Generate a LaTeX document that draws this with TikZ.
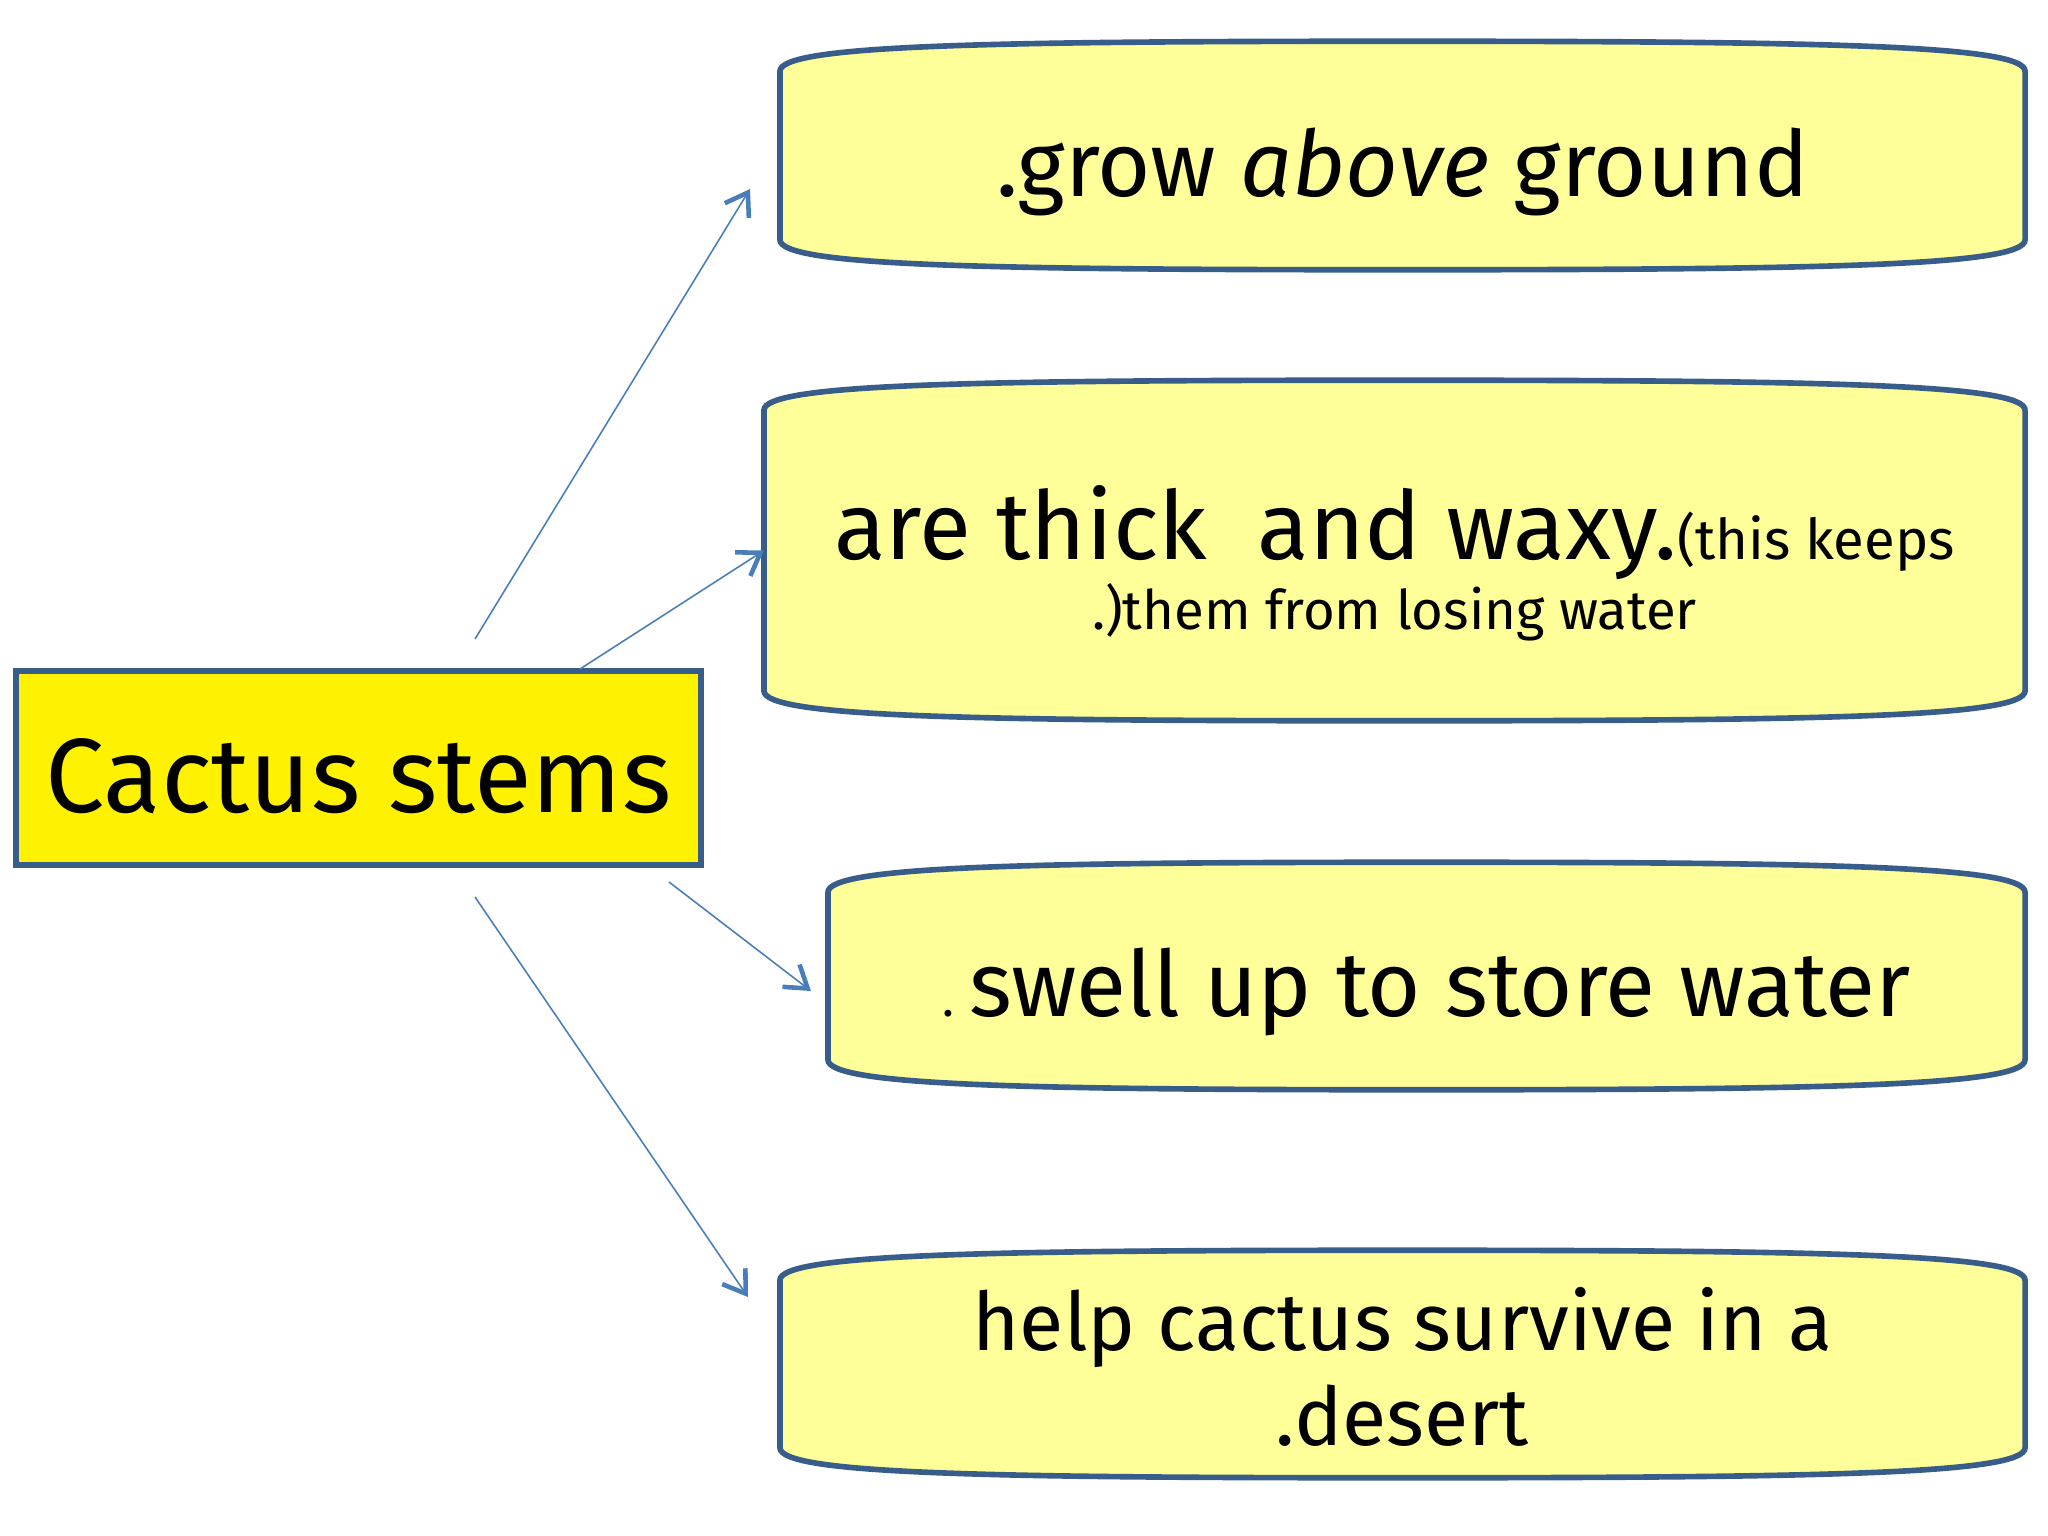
\documentclass[tikz,border=0pt]{standalone}
\usepackage{fontspec}
\setmainfont{Fira Sans}
\usepackage{tikz}
\usetikzlibrary{arrows.meta}
\definecolor{rimblue}{HTML}{385D8A}
\definecolor{linkblue}{HTML}{4A7EBB}
\definecolor{paleyellow}{HTML}{FFFF99}
\tikzstyle{fact}=[rectangle,inner sep=0pt,align=center,text=black]
\tikzstyle{rim}=[draw=rimblue,fill=paleyellow,line width=1.6pt]
\tikzstyle{link}=[draw=linkblue,line width=0.45pt,-{Straight Barb[length=6pt,width=8pt,line width=1.3pt]}]

\begin{document}
\begin{tikzpicture}[x=0.01cm,y=-0.01cm]
  \useasboundingbox (0,0) rectangle (2048,1536);
  \node[fact,minimum width=12.43cm,minimum height=2.27cm] (grow) at (1402.5,155.5) {};
  \node[fact,minimum width=12.59cm,minimum height=3.39cm] (wax) at (1394.5,550.5) {};
  \node[fact,minimum width=11.95cm,minimum height=2.26cm] (swell) at (1426.5,976) {};
  \node[fact,minimum width=12.43cm,minimum height=2.26cm] (desert) at (1402.5,1364) {};
  \foreach \name in {grow,wax,swell,desert}
    \draw[rim] ([yshift=-3mm]\name.north west)
      .. controls ([yshift=-0.4mm]\name.north west) and ([xshift=20mm]\name.north west) .. (\name.north)
      .. controls ([xshift=-20mm]\name.north east) and ([yshift=-0.4mm]\name.north east) .. ([yshift=-3mm]\name.north east)
      -- ([yshift=3mm]\name.south east)
      .. controls ([yshift=0.4mm]\name.south east) and ([xshift=-20mm]\name.south east) .. (\name.south)
      .. controls ([xshift=20mm]\name.south west) and ([yshift=0.4mm]\name.south west) .. ([yshift=3mm]\name.south west)
      -- cycle;
  \node[draw=rimblue,fill=yellow,line width=1.6pt,minimum width=6.85cm,minimum height=1.94cm] (stem) at (358.5,768) {};
  % texts
  \node[fact,font=\fontsize{30}{36}\selectfont] at ([yshift=-0.8mm]stem) {Cactus stems};
  \node[fact,font=\fontsize{26}{32}\selectfont] at ([yshift=-1.6mm]grow) {.grow \textit{above} ground};
  \node[fact,font=\fontsize{27}{20}\selectfont] at ([yshift=-1.3mm]wax) {are thick\ \ and waxy.{\fontsize{16}{20}\selectfont(this keeps}\\
    {\fontsize{15.5}{20}\selectfont .)them from losing water}};
  \node[fact,font=\fontsize{26}{32}\selectfont] at ([yshift=-1.6mm]swell) {{\fontsize{14}{14}\selectfont.}\,swell up to store water};
  \node[fact,font=\fontsize{23}{27}\selectfont] at ([yshift=-0.3mm]desert) {help cactus survive in a\\.desert};
  % arrows
  \coordinate (a1) at (475,639);
  \coordinate (b1) at (750,189);
  \coordinate (a2) at (580,669);
  \coordinate (a3) at (669,882);
  \coordinate (b3) at (811,991);
  \coordinate (a4) at (475,897);
  \coordinate (b4) at (748,1297);
  \draw[link] (a1) -- (b1);
  \draw[link] (a2) -- (wax.west);
  \draw[link] (a3) -- (b3);
  \draw[link] (a4) -- (b4);
\end{tikzpicture}
\end{document}
